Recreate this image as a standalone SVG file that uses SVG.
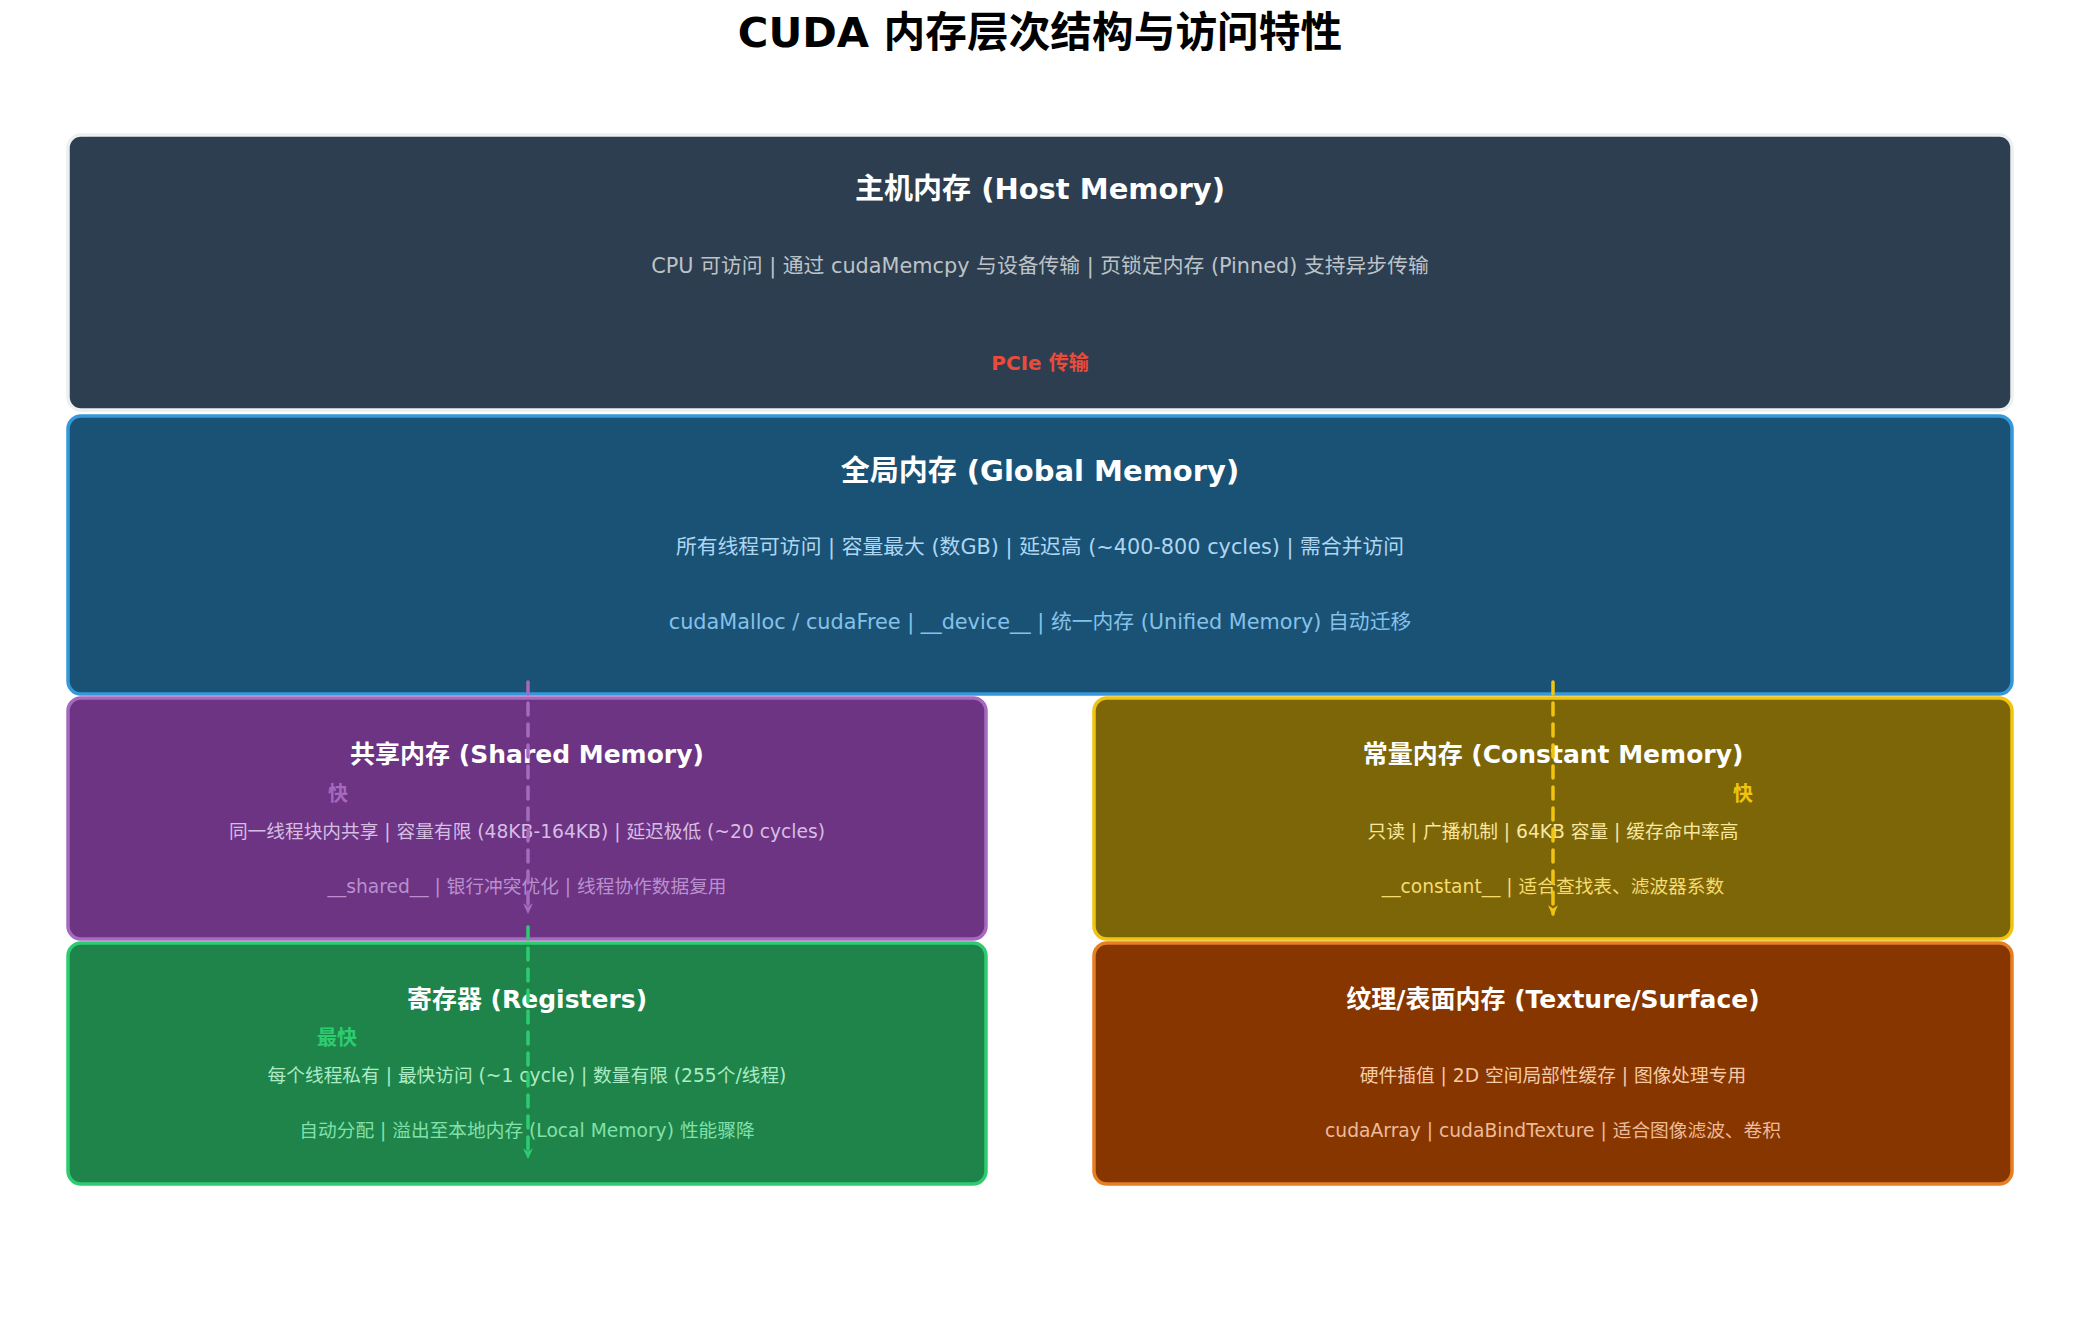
<svg xmlns="http://www.w3.org/2000/svg" width="2080" height="1330" viewBox="0 0 2080 1330">
<defs>
<style>
text{font-family:"DejaVu Sans","Noto Sans CJK SC",sans-serif;text-anchor:middle}
.ttl{font-size:41.7px;font-weight:bold;fill:#000}
.bt{font-size:29px;font-weight:bold;fill:#ffffff}
.bs{font-size:25px;font-weight:bold;fill:#ffffff}
.d1{font-size:20.8px}
.d2{font-size:18.7px}
.lbl{font-size:20px;font-weight:bold}
.box{stroke-width:3.5}
.con{fill:none;stroke-width:3.5;stroke-dasharray:12 9;stroke-linecap:round}
</style>
<marker id="ap" viewBox="0 0 10 10" markerWidth="11" markerHeight="11" refX="8" refY="5" orient="auto" markerUnits="userSpaceOnUse"><path d="M0,0.5 L10,5 L0,9.5 L3,5 z" fill="#a569bd"/></marker>
<marker id="ay" viewBox="0 0 10 10" markerWidth="11" markerHeight="11" refX="8" refY="5" orient="auto" markerUnits="userSpaceOnUse"><path d="M0,0.5 L10,5 L0,9.5 L3,5 z" fill="#f1c40f"/></marker>
<marker id="ag" viewBox="0 0 10 10" markerWidth="11" markerHeight="11" refX="8" refY="5" orient="auto" markerUnits="userSpaceOnUse"><path d="M0,0.5 L10,5 L0,9.5 L3,5 z" fill="#2ecc71"/></marker>
</defs>
<rect width="2080" height="1330" fill="#ffffff"/>
<text class="ttl" x="1040" y="47">CUDA 内存层次结构与访问特性</text>

<g id="host">
<rect class="box" x="68" y="135" width="1944" height="275" rx="13" fill="#2c3e50" stroke="#ecf0f1"/>
<text class="bt" x="1040" y="199">主机内存 (Host Memory)</text>
<text class="d1" x="1040" y="273" fill="#bdc3c7">CPU 可访问 | 通过 cudaMemcpy 与设备传输 | 页锁定内存 (Pinned) 支持异步传输</text>
<text class="lbl" x="1040" y="370" fill="#e74c3c">PCIe 传输</text>
</g>

<g id="global">
<rect class="box" x="68" y="416" width="1944" height="278" rx="13" fill="#1a5276" stroke="#3498db"/>
<text class="bt" x="1040" y="481">全局内存 (Global Memory)</text>
<text class="d1" x="1040" y="554" fill="#aed6f1">所有线程可访问 | 容量最大 (数GB) | 延迟高 (~400-800 cycles) | 需合并访问</text>
<text class="d1" x="1040" y="629" fill="#85c1e9">cudaMalloc / cudaFree | __device__ | 统一内存 (Unified Memory) 自动迁移</text>
</g>

<g id="shared">
<rect class="box" x="68" y="698" width="918" height="241" rx="13" fill="#6c3483" stroke="#a569bd"/>
<text class="bs" x="527" y="763">共享内存 (Shared Memory)</text>
<text class="d2" x="527" y="838" fill="#d7bde2">同一线程块内共享 | 容量有限 (48KB-164KB) | 延迟极低 (~20 cycles)</text>
<text class="d2" x="527" y="893" fill="#bb8fce">__shared__ | 银行冲突优化 | 线程协作数据复用</text>
</g>

<g id="constant">
<rect class="box" x="1094" y="698" width="918" height="241" rx="13" fill="#7d6608" stroke="#f1c40f"/>
<text class="bs" x="1553" y="763">常量内存 (Constant Memory)</text>
<text class="d2" x="1553" y="838" fill="#f9e79f">只读 | 广播机制 | 64KB 容量 | 缓存命中率高</text>
<text class="d2" x="1553" y="893" fill="#f7dc6f">__constant__ | 适合查找表、滤波器系数</text>
</g>

<g id="registers">
<rect class="box" x="68" y="943" width="918" height="241" rx="13" fill="#1e8449" stroke="#2ecc71"/>
<text class="bs" x="527" y="1008">寄存器 (Registers)</text>
<text class="d2" x="527" y="1082" fill="#abebc6">每个线程私有 | 最快访问 (~1 cycle) | 数量有限 (255个/线程)</text>
<text class="d2" x="527" y="1137" fill="#82e0aa">自动分配 | 溢出至本地内存 (Local Memory) 性能骤降</text>
</g>

<g id="texture">
<rect class="box" x="1094" y="943" width="918" height="241" rx="13" fill="#873600" stroke="#e67e22"/>
<text class="bs" x="1553" y="1008">纹理/表面内存 (Texture/Surface)</text>
<text class="d2" x="1553" y="1082" fill="#f5cba7">硬件插值 | 2D 空间局部性缓存 | 图像处理专用</text>
<text class="d2" x="1553" y="1137" fill="#edbb99">cudaArray | cudaBindTexture | 适合图像滤波、卷积</text>
</g>

<g id="connectors">
<line class="con" x1="528" y1="682" x2="528" y2="912" stroke="#a569bd" marker-end="url(#ap)"/>
<text class="lbl" x="338" y="801" fill="#a569bd">快</text>
<line class="con" x1="1553" y1="682" x2="1553" y2="914" stroke="#f1c40f" marker-end="url(#ay)"/>
<text class="lbl" x="1743" y="801" fill="#f1c40f">快</text>
<line class="con" x1="528" y1="927" x2="528" y2="1157" stroke="#2ecc71" marker-end="url(#ag)"/>
<text class="lbl" x="337" y="1045" fill="#2ecc71">最快</text>
</g>
</svg>
